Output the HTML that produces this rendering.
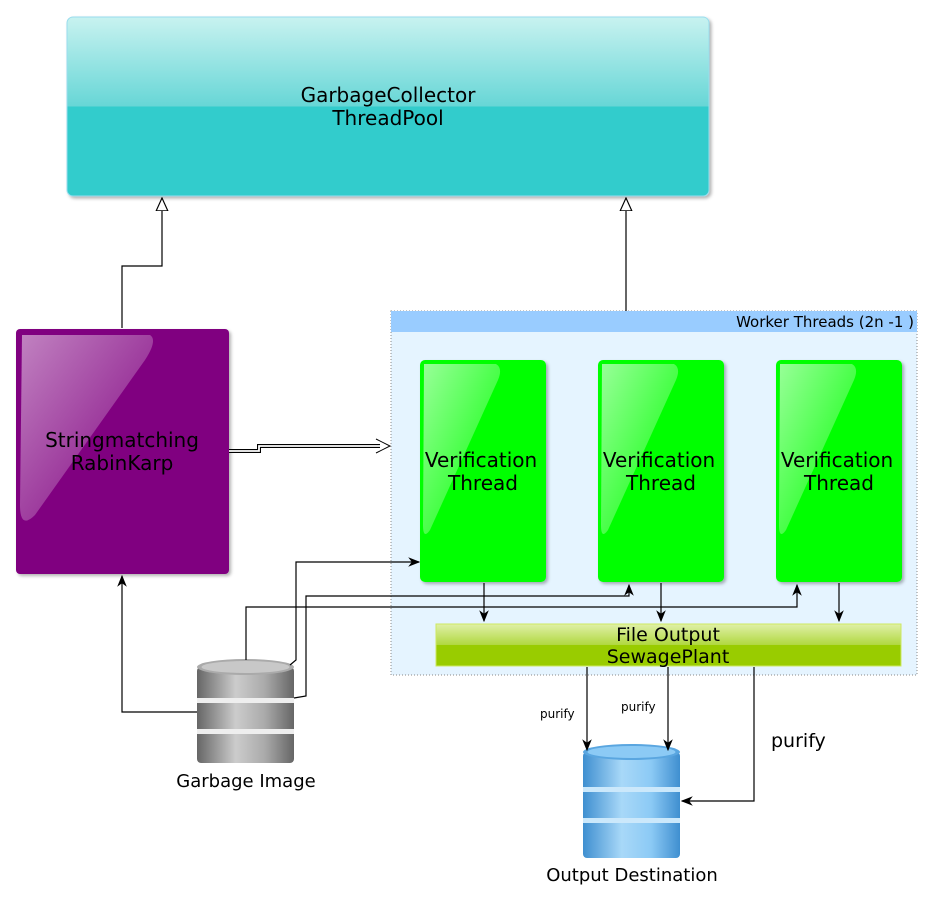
<!DOCTYPE html>
<html><head><style>body{margin:0;background:#fff}svg{display:block;font-family:"DejaVu Sans","Liberation Sans",sans-serif}</style></head><body>
<svg width="933" height="903" viewBox="0 0 933 903">
<defs>
<linearGradient id="gc" x1="0" y1="0" x2="0" y2="1"><stop offset="0" stop-color="#c8f2f0"/><stop offset="0.5" stop-color="#66d6d6"/><stop offset="0.5" stop-color="#33cccc"/><stop offset="1" stop-color="#33cccc"/></linearGradient>
<linearGradient id="fo" x1="0" y1="0" x2="0" y2="1"><stop offset="0" stop-color="#e0f0a8"/><stop offset="0.5" stop-color="#b0d840"/><stop offset="0.5" stop-color="#99cc00"/><stop offset="1" stop-color="#99cc00"/></linearGradient>
<linearGradient id="gl" x1="0" y1="0" x2="1" y2="1"><stop offset="0" stop-color="#fff" stop-opacity="0.85"/><stop offset="1" stop-color="#fff" stop-opacity="0"/></linearGradient>
<linearGradient id="gray" x1="0" y1="0" x2="1" y2="0"><stop offset="0" stop-color="#666"/><stop offset="0.4" stop-color="#ccc"/><stop offset="0.7" stop-color="#aaa"/><stop offset="1" stop-color="#666"/></linearGradient>
<linearGradient id="blue" x1="0" y1="0" x2="1" y2="0"><stop offset="0" stop-color="#3f8fd0"/><stop offset="0.4" stop-color="#a8d8f8"/><stop offset="0.7" stop-color="#8ccaf5"/><stop offset="1" stop-color="#3f8fd0"/></linearGradient>
<filter id="sh"><feDropShadow dx="2" dy="2" stdDeviation="1.5" flood-opacity="0.3"/></filter>
<marker id="a" viewBox="0 0 10 10" refX="9" refY="5" markerWidth="12" markerHeight="12" orient="auto" markerUnits="userSpaceOnUse"><path d="M0,1 L10,5 L0,9 L3,5Z" fill="#000"/></marker>
<marker id="t" viewBox="0 0 12 12" refX="11" refY="6" markerWidth="14" markerHeight="14" orient="auto" markerUnits="userSpaceOnUse"><path d="M0,1 L11,6 L0,11Z" fill="#fff" stroke="#000"/></marker>
</defs>
<rect x="67" y="17" width="642" height="179" rx="6" fill="url(#gc)" stroke="#9de" filter="url(#sh)"/>
<text x="388" y="102" font-size="20" text-anchor="middle">GarbageCollector</text>
<text x="388" y="125" font-size="20" text-anchor="middle">ThreadPool</text>

<rect x="16" y="329" width="213" height="245" rx="4" fill="#800080" filter="url(#sh)"/>
<path d="M22,335 L150,335 Q158,340 145,360 L35,515 Q20,530 20,505Z" fill="url(#gl)" opacity="0.6"/>
<text x="122" y="447" font-size="20" text-anchor="middle">Stringmatching</text>
<text x="122" y="470" font-size="20" text-anchor="middle">RabinKarp</text>

<rect x="391" y="311" width="526" height="364" fill="#e5f4ff" stroke="#888" stroke-dasharray="1,2"/>
<rect x="391" y="311" width="526" height="21" fill="#99ccff"/>
<text x="914" y="327" font-size="15" text-anchor="end">Worker Threads (2n -1 )</text>

<g font-size="20" text-anchor="middle">
<rect x="420" y="360" width="126" height="222" rx="5" fill="#00ff00" filter="url(#sh)"/>
<path d="M424,364 L496,364 Q503,368 498,380 L430,530 Q423,540 423,525Z" fill="url(#gl)" opacity="0.7"/>
<text x="481" y="467">Verification</text><text x="483" y="490">Thread</text>
<rect x="598" y="360" width="126" height="222" rx="5" fill="#00ff00" filter="url(#sh)"/>
<path d="M602,364 L674,364 Q681,368 676,380 L608,530 Q601,540 601,525Z" fill="url(#gl)" opacity="0.7"/>
<text x="659" y="467">Verification</text><text x="661" y="490">Thread</text>
<rect x="776" y="360" width="126" height="222" rx="5" fill="#00ff00" filter="url(#sh)"/>
<path d="M780,364 L852,364 Q859,368 854,380 L786,530 Q779,540 779,525Z" fill="url(#gl)" opacity="0.7"/>
<text x="837" y="467">Verification</text><text x="839" y="490">Thread</text>
</g>

<rect x="436" y="624" width="465" height="42" fill="url(#fo)" stroke="#cde860"/>
<text x="668" y="641" font-size="19" text-anchor="middle">File Output</text>
<text x="668" y="663" font-size="19" text-anchor="middle">SewagePlant</text>

<g>
<rect x="197" y="667" width="97" height="96" rx="4" fill="url(#gray)"/>
<ellipse cx="245.5" cy="667" rx="48.5" ry="8" fill="#aaa"/>
<ellipse cx="245.5" cy="667" rx="44" ry="6" fill="#c8c8c8"/>
<rect x="197" y="698" width="97" height="5" fill="#eee"/>
<rect x="197" y="729" width="97" height="5" fill="#eee"/>
</g>
<text x="246" y="787" font-size="18" text-anchor="middle">Garbage Image</text>
<g>
<rect x="583" y="752" width="97" height="106" rx="4" fill="url(#blue)"/>
<ellipse cx="631.5" cy="752" rx="48.5" ry="8" fill="#5aa6e0"/>
<ellipse cx="631.5" cy="752" rx="44" ry="6" fill="#8ccaf5"/>
<rect x="583" y="787" width="97" height="5" fill="#cbe8fb"/>
<rect x="583" y="818" width="97" height="5" fill="#cbe8fb"/>
</g>
<text x="632" y="881" font-size="18" text-anchor="middle">Output Destination</text>

<g fill="none" stroke="#000" stroke-width="1.2">
<path d="M122,328 V266 H162 V198" marker-end="url(#t)"/>
<path d="M626,311 V198" marker-end="url(#t)"/>
<path d="M197,712 H122 V576" marker-end="url(#a)"/>
<path d="M246,660 V607 H797 V585" marker-end="url(#a)"/>
<path d="M290,665 L296,660 V562 H419" marker-end="url(#a)"/>
<path d="M294,698 L306,696 V596 H629 V585" marker-end="url(#a)"/>
<path d="M484,583 V621" marker-end="url(#a)"/>
<path d="M661,583 V621" marker-end="url(#a)"/>
<path d="M839,583 V621" marker-end="url(#a)"/>
<path d="M587,667 V750" marker-end="url(#a)"/>
<path d="M668,667 V750" marker-end="url(#a)"/>
<path d="M754,667 V801 H682" marker-end="url(#a)"/>
<path d="M229,451 H259 V446 H380" stroke-width="4"/>
<path d="M229,451 H259 V446 H380" stroke="#fff" stroke-width="1.8"/>
<path d="M376,439 L390,446 L376,453" stroke-width="1"/>
</g>
<text x="540" y="718" font-size="12">purify</text>
<text x="621" y="711" font-size="12">purify</text>
<text x="771" y="747" font-size="19">purify</text>
</svg>
</body></html>
